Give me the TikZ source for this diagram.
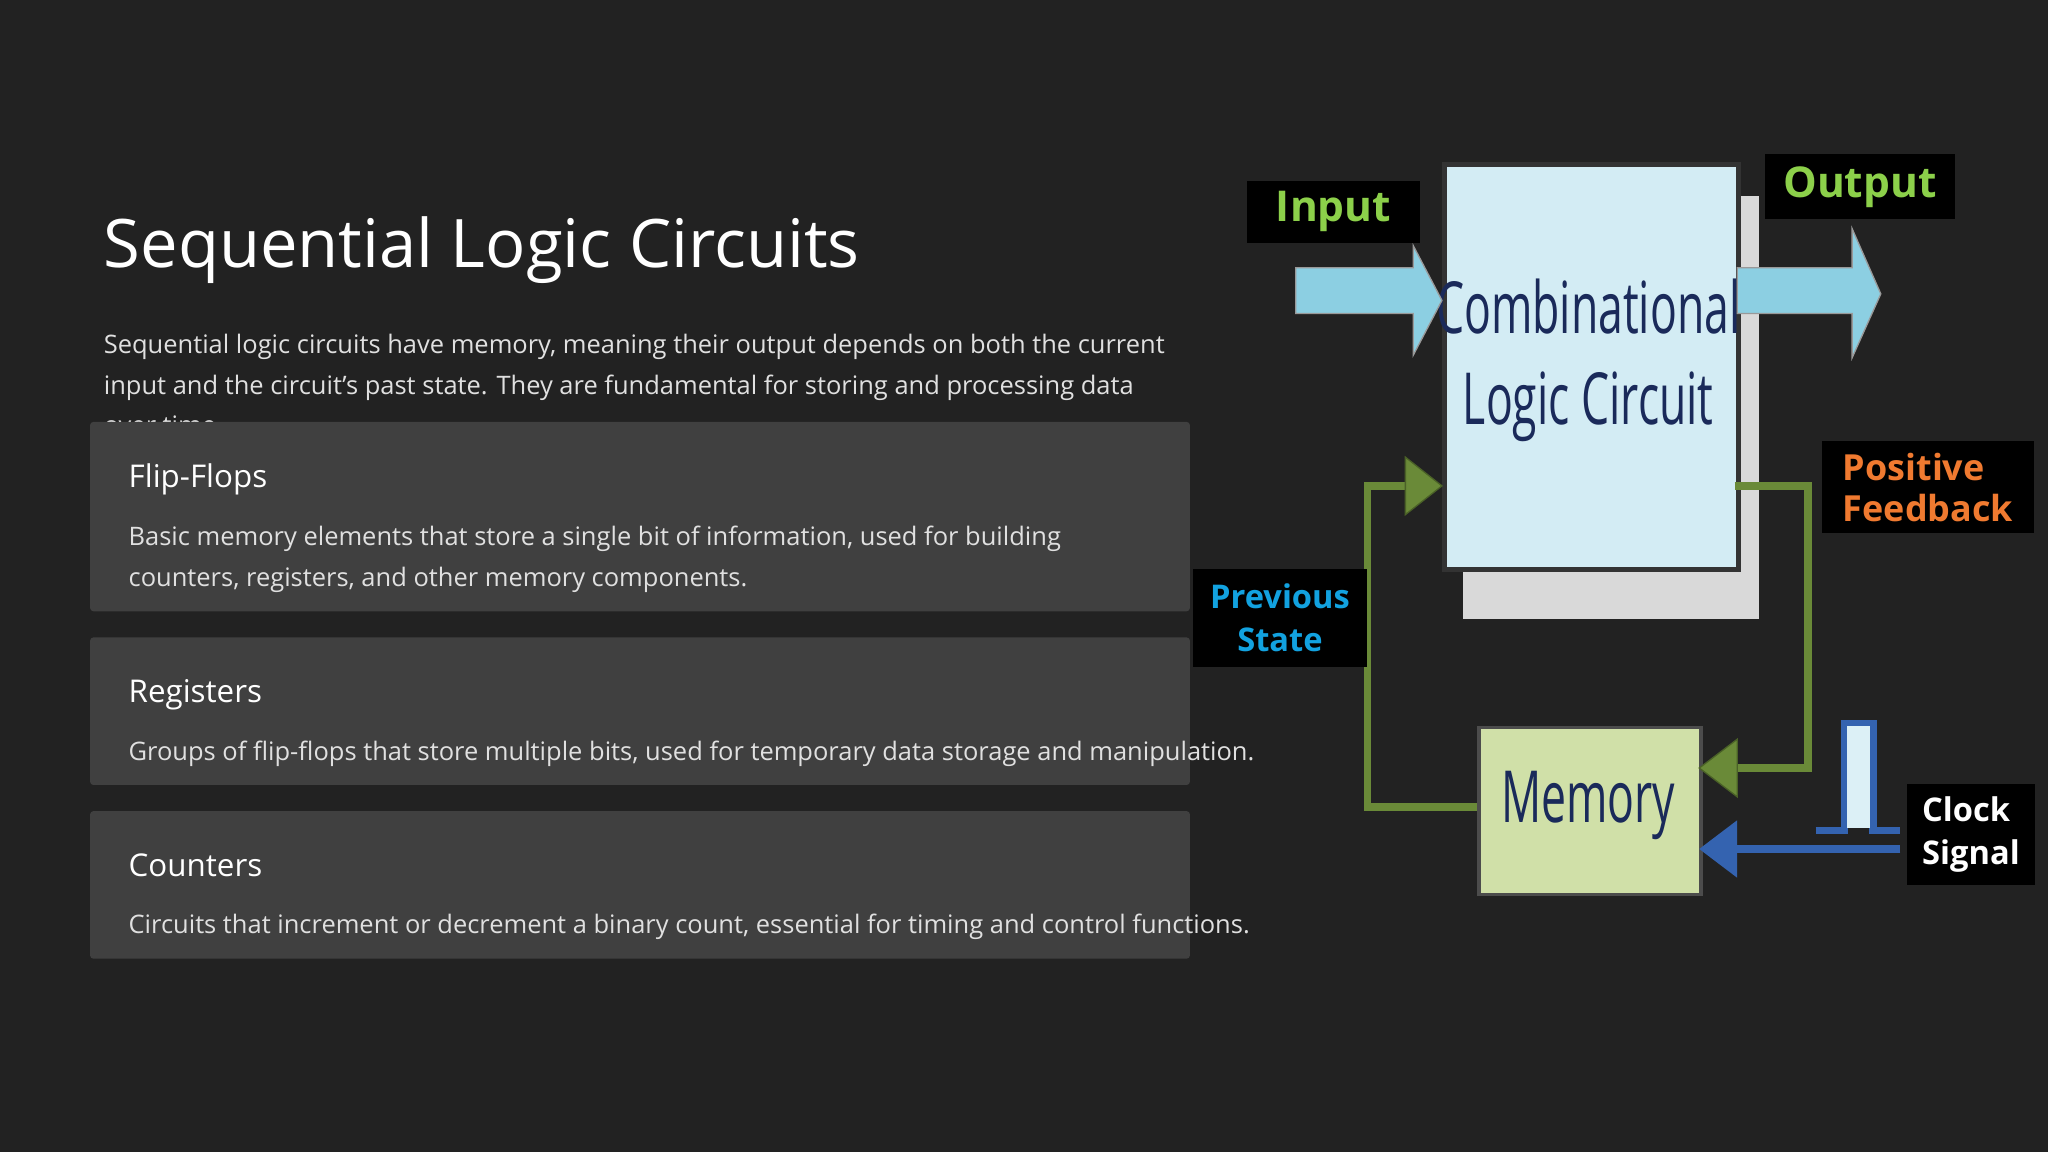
\documentclass[tikz,border=0pt]{standalone}
\usepackage{fontspec}
\setmainfont{Open Sans}
\usetikzlibrary{arrows.meta}
\definecolor{bg}{HTML}{222222}
\definecolor{card}{HTML}{404040}
\definecolor{cblue}{HTML}{D3ECF4}
\definecolor{navy}{HTML}{1A2A5A}
\definecolor{lgreen}{HTML}{8CD04A}
\definecolor{orng}{HTML}{F07A30}
\definecolor{pblue}{HTML}{12A2E0}
\definecolor{mem}{HTML}{D0E0A8}
\definecolor{olive}{HTML}{6A8A38}
\definecolor{clk}{HTML}{3463B0}
\definecolor{arrb}{HTML}{8CCFE2}
\begin{document}
\begin{tikzpicture}[x=0.4pt,y=-0.4pt,
  cardbox/.style={fill=card,draw=none,rounded corners=1pt},
  ctitle/.style={anchor=base west,text=white,font=\fontsize{9.6}{12}\selectfont},
  cdesc/.style={anchor=base west,text=white!88!black,font=\fontsize{7.8}{12.4}\selectfont,align=left},
  lbl/.style={fill=black,font=\bfseries,align=center,inner sep=0pt},
  fb/.style={draw=olive,line width=2.4pt},
  fbhead/.style={fill=olive,draw=olive!70!black}]
\fill[bg] (0,0) rectangle (1568,882);
\useasboundingbox (0,0) rectangle (1568,882);
\node[anchor=base west,text=white,font=\fontsize{20.5}{24}\selectfont,inner sep=0] (title) at (79,205) {Sequential Logic Circuits};
\node[cdesc,inner sep=0] (p1) at (79,271) {Sequential logic circuits have memory, meaning their output depends on both the current};
\node[cdesc,inner sep=0] (p2) at (79,302) {input and the circuit's past state. They are fundamental for storing and processing data};
\node[cdesc,inner sep=0] (p3) at (79,333) {over time.};
\fill[cardbox] (69,323) rectangle (911,468);
\fill[cardbox] (69,488) rectangle (911,601);
\fill[cardbox] (69,621) rectangle (911,734);
\node[ctitle,inner sep=0] (t1) at (98,373) {Flip-Flops};
\node[cdesc,inner sep=0] (d1) at (98,418) {Basic memory elements that store a single bit of information, used for building};
\node[cdesc,inner sep=0] (d1b) at (98,449) {counters, registers, and other memory components.};
\node[ctitle,inner sep=0] (t2) at (98,538) {Registers};
\node[cdesc,inner sep=0] (d2) at (98,582) {Groups of flip-flops that store multiple bits, used for temporary data storage and manipulation.};
\node[ctitle,inner sep=0] (t3) at (98,671) {Counters};
\node[cdesc,inner sep=0] (d3) at (98,715) {Circuits that increment or decrement a binary count, essential for timing and control functions.};
% diagram
\fill[black!15] (1120,150) rectangle (1347,474);
\node[draw=black!80,line width=1.6pt,fill=cblue,minimum width=90pt,minimum height=124pt,anchor=north west,inner sep=0] (comb) at (1104,124) {};
\node[text=navy,font=\fontsize{22}{28}\selectfont,xscale=0.62,align=center] (combt) at (1216,276) {Combinational\\Logic Circuit};
% input / output arrows
\fill[arrb,draw=black!40] (992,205) -- (1082,205) -- (1082,188) -- (1104,230) -- (1082,272) -- (1082,240) -- (992,240) -- cycle;
\fill[arrb,draw=black!40] (1330,205) -- (1418,205) -- (1418,175) -- (1440,225) -- (1418,274) -- (1418,240) -- (1330,240) -- cycle;
\node[lbl,minimum width=53pt,minimum height=19pt,text=lgreen,font=\bfseries\fontsize{13}{15}\selectfont] (inl) at (1021,162) {Input};
\node[lbl,minimum width=58pt,minimum height=20pt,text=lgreen,font=\bfseries\fontsize{13}{15}\selectfont] (outl) at (1424,143) {Output};
% memory
\node[draw=black!70,line width=1pt,fill=mem,minimum width=68pt,minimum height=51pt,anchor=north west,inner sep=0] (mem) at (1131,556) {};
\node[text=navy,font=\fontsize{22}{28}\selectfont,xscale=0.62] (memt) at (1216,617) {Memory};
% feedback paths
\coordinate (fa) at (1384,372);
\coordinate (fb2) at (1384,588);
\coordinate (ga) at (1047,618);
\coordinate (gb) at (1047,372);
\draw[fb] (1328,372) -- (fa) -- (fb2) -- (1322,588);
\fill[fbhead] (1301,588) -- (1330,566) -- (1330,610) -- cycle;
\draw[fb] (mem.west |- ga) -- (ga) -- (gb) -- (1078,372);
\fill[fbhead] (1104,372) -- (1076,350) -- (1076,394) -- cycle;
% clock
\draw[clk,line width=2.2pt] (1390,636) -- (1412,636) -- (1412,554) -- (1434,554) -- (1434,636) -- (1455,636);
\fill[cblue!80!white] (1414,556) rectangle (1432,634);
\draw[clk,line width=2.6pt] (1455,650) -- (1324,650);
\fill[clk] (1301,650) -- (1330,628) -- (1330,672) -- cycle;
% labels
\node[lbl,minimum width=65pt,minimum height=28pt,text=orng,font=\bfseries\fontsize{11}{12.5}\selectfont,align=left] (pf) at (1476,373) {Positive\\Feedback};
\node[lbl,minimum width=53pt,minimum height=30pt,text=pblue,font=\bfseries\fontsize{10}{13}\selectfont] (ps) at (980,473) {Previous\\State};
\node[lbl,minimum width=39pt,minimum height=31pt,text=white,font=\bfseries\fontsize{10}{13}\selectfont,align=left] (cs) at (1509,639) {Clock\\Signal};
\end{tikzpicture}
\end{document}
